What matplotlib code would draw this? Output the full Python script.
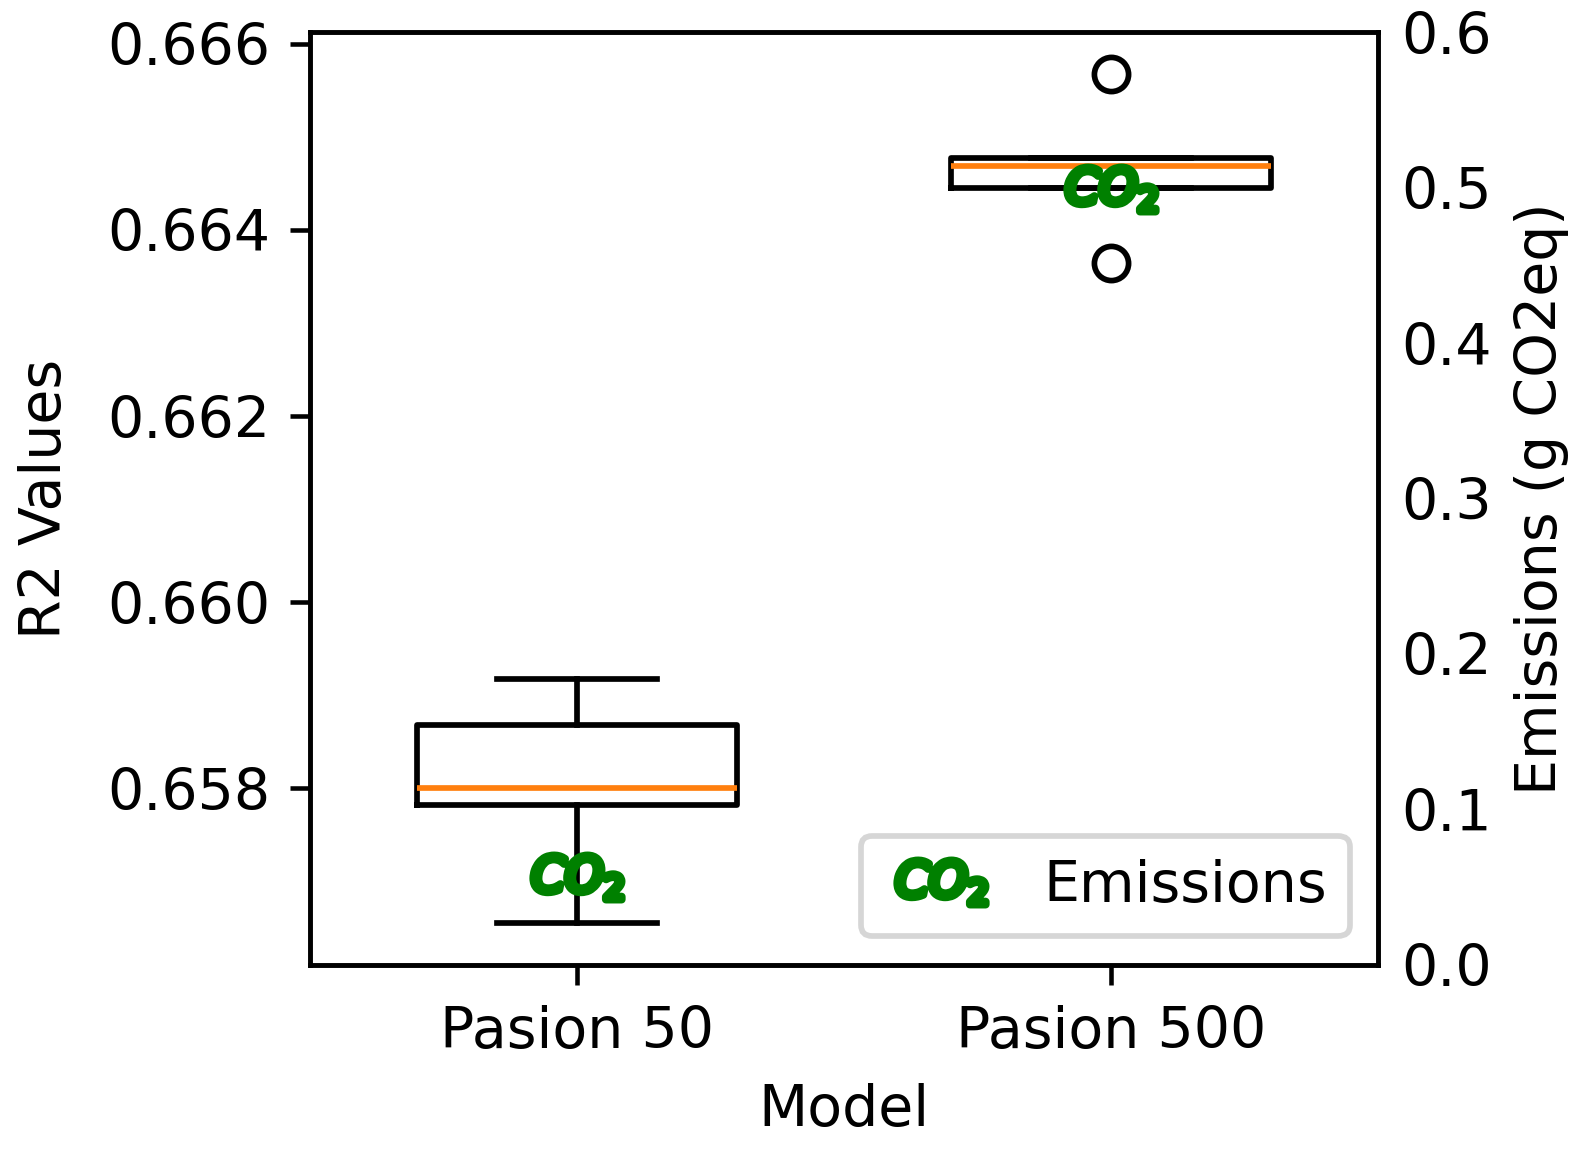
import numpy as np
import matplotlib
matplotlib.use("Agg")
import matplotlib.pyplot as plt

# R2 values per model
models = ["Pasion 50", "Pasion 500"]
r2_pasion50 = [0.656560, 0.657820, 0.658000, 0.658680, 0.659175]
r2_pasion500 = [0.663641, 0.664449, 0.664682, 0.664773, 0.665670]
emissions = [0.0566, 0.499]  # g CO2eq

dpi = 410
fig, ax = plt.subplots(figsize=(1586 / dpi, 1153 / dpi), dpi=dpi)
fig.subplots_adjust(left=0.1955, right=0.8689, bottom=0.1631, top=0.9722)

pos = np.arange(1, len(models) + 1)
ax.boxplot([r2_pasion50, r2_pasion500], positions=pos, widths=0.6)
ax.set_xticks(pos)
ax.set_xticklabels(models)
ax.set_xlabel("Model")
ax.set_ylabel("R2 Values", labelpad=6)

ax2 = ax.twinx()
ax2.plot(pos, emissions, marker="$CO_2$", linestyle="None", color="green",
         markersize=15.5, markeredgewidth=1.4, label="Emissions")
ax2.set_ylim(0, 0.6)
ax2.set_ylabel("Emissions (g CO2eq)")
ax2.tick_params(axis="y", length=0, pad=4)
ax2.legend(loc="lower right")

fig.savefig("out.png", dpi=dpi)
